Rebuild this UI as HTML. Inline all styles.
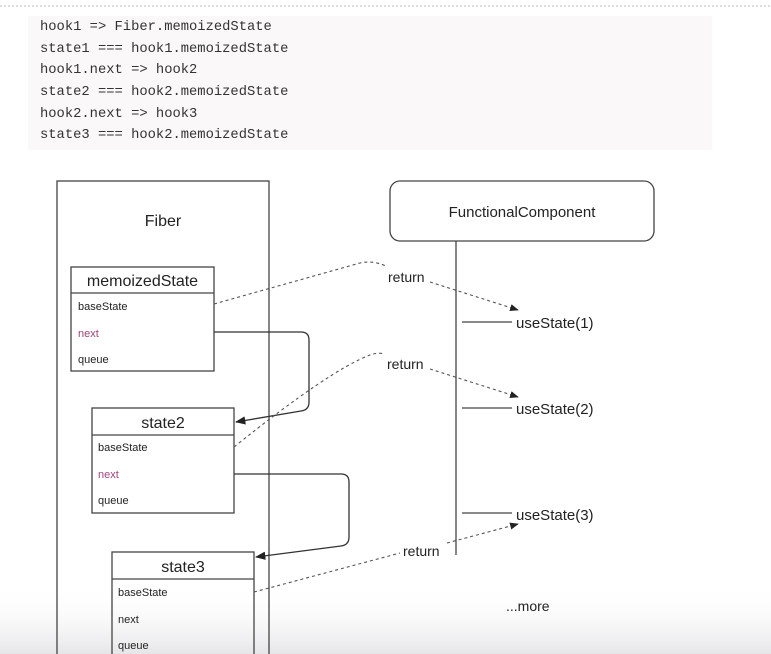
<!DOCTYPE html>
<html><head><meta charset="utf-8"><style>
html,body{margin:0;padding:0;background:#fff;}
body{width:771px;height:654px;overflow:hidden;position:relative;}
svg{position:absolute;left:0;top:0;}
</style></head><body>
<svg width="771" height="654" viewBox="0 0 771 654" xmlns="http://www.w3.org/2000/svg">
<defs>
<linearGradient id="bot" x1="0" y1="0" x2="0" y2="1">
<stop offset="0" stop-color="#ffffff" stop-opacity="0"/>
<stop offset="1" stop-color="#e6e6e8"/>
</linearGradient>
<marker id="ah" viewBox="0 0 10 10" refX="9" refY="5" markerWidth="8" markerHeight="8" orient="auto-start-reverse">
<path d="M0,1 L10,5 L0,9 z" fill="#222"/>
</marker>
</defs>
<rect x="0" y="585" width="771" height="69" fill="url(#bot)"/>
<line x1="0" y1="6" x2="771" y2="6" stroke="#bbb" stroke-dasharray="2,2"/>
<rect x="28" y="16" width="684" height="134" fill="#faf8f8"/>
<g font-family="Liberation Mono, monospace" font-size="13.8" fill="#333">
<text x="40" y="30">hook1 =&gt; Fiber.memoizedState</text>
<text x="40" y="52">state1 === hook1.memoizedState</text>
<text x="40" y="73">hook1.next =&gt; hook2</text>
<text x="40" y="95">state2 === hook2.memoizedState</text>
<text x="40" y="117">hook2.next =&gt; hook3</text>
<text x="40" y="138">state3 === hook2.memoizedState</text>
</g>
<g fill="none" stroke="#444" stroke-width="1.3">
<rect x="57" y="181" width="212" height="480"/>
<rect x="71" y="267" width="143" height="104" fill="#fff"/>
<line x1="71" y1="293" x2="214" y2="293"/>
<rect x="92" y="408" width="142" height="105" fill="#fff"/>
<line x1="92" y1="435" x2="234" y2="435"/>
<rect x="112" y="552" width="142" height="110" fill="none"/>
<line x1="112" y1="579" x2="254" y2="579"/>
<rect x="390" y="181" width="264" height="60" rx="10"/>
<line x1="456" y1="241" x2="456" y2="555"/>
<line x1="462" y1="322" x2="512" y2="322"/>
<line x1="462" y1="408" x2="512" y2="408"/>
<line x1="462" y1="513" x2="512" y2="513"/>
</g>
<g fill="none" stroke="#333" stroke-width="1.3">
<path d="M214,332 L301,332 Q309,332 309,340 L309,402 Q309,410 301,411 L236,422" marker-end="url(#ah)"/>
<path d="M234,474 L341,474 Q349,474 349,482 L349,537 Q349,545 341,546 L256,557" marker-end="url(#ah)"/>
</g>
<g fill="none" stroke="#555" stroke-width="1.1" stroke-dasharray="3,3">
<path d="M214,304 L360,263 Q372,260 386,266"/>
<path d="M430,282 L518,310" marker-end="url(#ah)"/>
<path d="M234,447 Q330,370 370,355 Q378,352 384,354"/>
<path d="M430,369 L518,397" marker-end="url(#ah)"/>
<path d="M254,592 L400,553"/>
<path d="M447,543 L518,524" marker-end="url(#ah)"/>
</g>
<g font-family="Liberation Sans, Arial, sans-serif" fill="#222">
<text x="163" y="226" font-size="16" text-anchor="middle">Fiber</text>
<text x="142.5" y="286" font-size="16" text-anchor="middle">memoizedState</text>
<text x="163" y="428" font-size="16" text-anchor="middle">state2</text>
<text x="183" y="572" font-size="16" text-anchor="middle">state3</text>
<g font-size="11">
<text x="78" y="310">baseState</text>
<text x="78" y="337" fill="#a0457a">next</text>
<text x="78" y="363">queue</text>
<text x="98" y="451">baseState</text>
<text x="98" y="478" fill="#a0457a">next</text>
<text x="98" y="504">queue</text>
<text x="118" y="596">baseState</text>
<text x="118" y="623">next</text>
<text x="118" y="649">queue</text>
</g>
<text x="522" y="217" font-size="15" text-anchor="middle">FunctionalComponent</text>
<g font-size="15">
<text x="516" y="328">useState(1)</text>
<text x="516" y="414">useState(2)</text>
<text x="516" y="520">useState(3)</text>
<text x="388" y="282" font-size="14">return</text>
<text x="387" y="369" font-size="14">return</text>
<text x="403" y="556" font-size="14">return</text>
<text x="506" y="611" font-size="14">...more</text>
</g>
</g>
</svg>
</body></html>
